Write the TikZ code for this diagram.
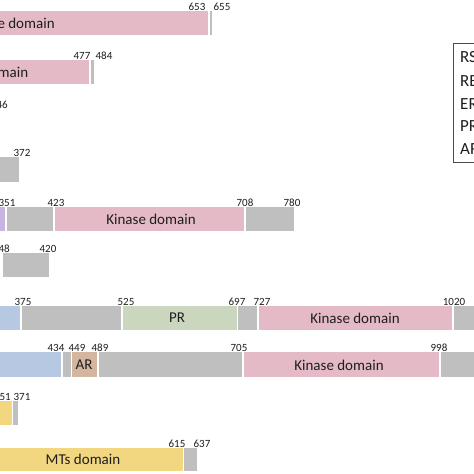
\documentclass[tikz,border=0pt]{standalone}
\usepackage{fontspec}
\setmainfont{Carlito}
\definecolor{kin}{RGB}{228,186,199}
\definecolor{gry}{RGB}{191,191,191}
\definecolor{blu}{RGB}{183,201,226}
\definecolor{grn}{RGB}{203,214,191}
\definecolor{tanc}{RGB}{212,182,160}
\definecolor{yel}{RGB}{242,214,128}
\definecolor{pur}{RGB}{200,180,225}
\definecolor{ink}{RGB}{30,30,30}
\tikzset{
  num/.style={font=\fontsize{11}{13}\selectfont, inner sep=0pt, anchor=base, text=ink},
  dom/.style={font=\fontsize{15}{18}\selectfont, inner sep=0pt, text=ink},
  leg/.style={font=\fontsize{17}{20}\selectfont, inner sep=0pt, anchor=west, text=ink},
}
\begin{document}
\begin{tikzpicture}[x=1pt,y=-1pt]
\useasboundingbox (0,0) rectangle (474,474);
\clip (0,0) rectangle (474,474);
\fill[white] (0,0) rectangle (474,474);
% Row 1
\fill[kin] (-10,11) rectangle (208,35);
\fill[gry] (209.5,11) rectangle (211.5,35);
\node[dom] (d1) at (10,23) {Kinase domain};
\node[num] (n1a) at (197,10) {653};
\node[num] (n1b) at (222,10) {655};
% Row 2
\fill[kin] (-10,60) rectangle (89,84);
\fill[gry] (91,60) rectangle (94,84);
\node[dom] (d2) at (-16.5,72) {Kinase domain};
\node[num] (n2a) at (82,59) {477};
\node[num] (n2b) at (104,59) {484};
% Row 3
\node[num, anchor=base east] (n3a) at (8,108) {46};
% Row 4
\fill[gry] (-10,157) rectangle (19,182);
\node[num] (n4a) at (22,156) {372};
% Row 5
\fill[pur] (-10,207) rectangle (5,231);
\fill[gry] (7,207) rectangle (53,231);
\fill[kin] (55,207) rectangle (244,231);
\fill[gry] (246,207) rectangle (294,231);
\node[dom] (d5) at (151,219) {Kinase domain};
\node[num] (n5a) at (7,206) {351};
\node[num] (n5b) at (56,206) {423};
\node[num] (n5c) at (245,206) {708};
\node[num] (n5d) at (292,206) {780};
% Row 6
\fill[gry] (3,253) rectangle (49,277);
\node[num, anchor=base east] (n6a) at (10,252) {348};
\node[num] (n6b) at (48,252) {420};
% Row 7
\fill[blu] (-10,306) rectangle (20,330);
\fill[gry] (21.5,306) rectangle (121,330);
\fill[grn] (122.5,306) rectangle (236.5,330);
\fill[gry] (238,306) rectangle (257,330);
\fill[kin] (258.5,306) rectangle (452,330);
\fill[gry] (454,306) rectangle (480,330);
\node[dom] (d7a) at (177,318) {PR};
\node[dom] (d7b) at (355,318) {Kinase domain};
\node[num] (n7a) at (23,305) {375};
\node[num] (n7b) at (126,305) {525};
\node[num] (n7c) at (237,305) {697};
\node[num] (n7d) at (262,305) {727};
\node[num] (n7e) at (454,305) {1020};
% Row 8
\fill[blu] (-10,352) rectangle (61,377);
\fill[gry] (63,352) rectangle (71,377);
\fill[tanc] (72,352) rectangle (97,377);
\fill[gry] (99,352) rectangle (242,377);
\fill[kin] (243.5,352) rectangle (439,377);
\fill[gry] (440.5,352) rectangle (480,377);
\node[dom] (d8a) at (84,365) {AR};
\node[dom] (d8b) at (339,365) {Kinase domain};
\node[num] (n8a) at (56,351) {434};
\node[num] (n8b) at (77,351) {449};
\node[num] (n8c) at (100,351) {489};
\node[num] (n8d) at (239,351) {705};
\node[num] (n8e) at (439,351) {998};
% Row 9
\fill[yel] (-10,401) rectangle (12,425);
\fill[gry] (13,401) rectangle (18,425);
\node[num, anchor=base east] (n9a) at (11,400) {351};
\node[num] (n9b) at (22,400) {371};
% Row 10
\fill[yel] (-10,448) rectangle (183,471);
\fill[gry] (184,448) rectangle (197,471);
\node[dom] (d10) at (83,459) {MTs domain};
\node[num] (n10a) at (177,447) {615};
\node[num] (n10b) at (202,447) {637};
% Legend
\draw[ink!80, line width=0.8pt] (480,43) -- (453.5,43) -- (453.5,162) -- (480,162);
\node[leg] (l1) at (460,57) {RS};
\node[leg] (l2) at (460,81) {RB};
\node[leg] (l3) at (460,104) {ER};
\node[leg] (l4) at (460,126) {PR};
\node[leg] (l5) at (460,149) {AR};
\end{tikzpicture}
\end{document}
